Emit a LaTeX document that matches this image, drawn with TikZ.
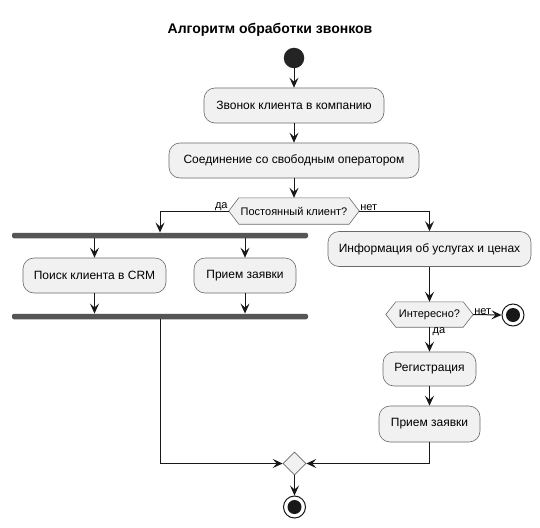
\documentclass[tikz,border=0pt]{standalone}
\usepackage{fontspec}
\setmainfont{Liberation Sans}
\usetikzlibrary{arrows.meta,backgrounds,calc,shapes.geometric}
\definecolor{boxfill}{HTML}{F1F1F1}
\definecolor{ln}{HTML}{181818}
\definecolor{bord}{HTML}{6A6A6A}
\definecolor{barc}{HTML}{555555}
\tikzset{
 act/.style={draw=bord, line width=0.6pt, fill=boxfill, rounded corners=11pt, minimum height=35pt, inner sep=0pt, font=\fontsize{12}{14}\selectfont},
 flow/.style={draw=ln, line width=1pt, -{Stealth[length=10pt,width=9pt,inset=4pt]}},
 plain/.style={draw=ln, line width=1pt},
 bar/.style={fill=barc, draw=none, rounded corners=2pt, minimum width=296pt, minimum height=5.5pt, inner sep=0pt},
 hexnode/.style={font=\fontsize{11}{13}\selectfont, inner sep=0pt, minimum height=26pt},
 hexshape/.style={draw=bord, line width=0.6pt, fill=boxfill},
 lbl/.style={font=\fontsize{11}{13}\selectfont, inner sep=1pt},
 startdot/.style={circle, fill=ln!95, draw=none, minimum size=20.5pt, inner sep=0pt},
 endring/.style={circle, fill=white, draw=ln, line width=1pt, minimum size=22pt, inner sep=0pt},
 mergebox/.style={diamond, fill=boxfill, draw=bord, line width=0.6pt, minimum width=23pt, minimum height=23pt, inner sep=0pt},
}
\begin{document}
\begin{tikzpicture}[x=1pt,y=-1pt]
\useasboundingbox (0,0) rectangle (540,527);

\node[font=\fontsize{14}{16}\selectfont\bfseries] (title) at (270,30) {Алгоритм обработки звонков};

\node[startdot] (start) at (294,58) {};
\node[act, minimum width=180pt] (b1) at (294,105.5) {Звонок клиента в компанию};
\node[act, minimum width=250pt] (b2) at (294,160.5) {Соединение со свободным оператором};
\node[hexnode, minimum width=130pt] (d1) at (294,211) {Постоянный клиент?};

\node[bar] (fork) at (160,235.5) {};
\node[act, minimum width=143pt] (p1) at (94.5,275.5) {Поиск клиента в CRM};
\node[act, minimum width=102pt] (p2) at (245,275.5) {Прием заявки};
\node[bar] (join) at (160,316.5) {};

\node[act, minimum width=203pt] (info) at (429.5,249) {Информация об услугах и ценах};
\node[hexnode, minimum width=87pt, minimum height=25pt] (d2) at (429.5,314.5) {Интересно?};
\node[endring] (end1) at (513,315) {};
\node[circle, fill=ln, minimum size=14pt, inner sep=0pt] (end1dot) at (end1) {};
\node[act, minimum width=93pt, minimum height=34pt] (reg) at (429.5,369) {Регистрация};
\node[act, minimum width=101pt, minimum height=36pt] (r2) at (429.5,424) {Прием заявки};

\node[mergebox] (merge) at (294.5,463.5) {};
\node[endring] (end2) at (294.5,507) {};
\node[circle, fill=ln, minimum size=14pt, inner sep=0pt] (end2dot) at (end2) {};

\begin{scope}[on background layer]
\fill[white] (0,0) rectangle (540,527);
\draw[hexshape] (d1.west) -- ([xshift=10pt]d1.north west) -- ([xshift=-10pt]d1.north east) -- (d1.east) -- ([xshift=-10pt]d1.south east) -- ([xshift=10pt]d1.south west) -- cycle;
\draw[hexshape] (d2.west) -- ([xshift=10pt]d2.north west) -- ([xshift=-10pt]d2.north east) -- (d2.east) -- ([xshift=-10pt]d2.south east) -- ([xshift=10pt]d2.south west) -- cycle;
\end{scope}

\draw[flow] (start) -- (b1);
\draw[flow] (b1) -- (b2);
\draw[flow] (b2) -- (d1);
\draw[flow] (d1.west) -| (fork.north);
\draw[flow] (d1.east) -| (info.north);
\node[lbl, anchor=south east] (yes1) at ([yshift=-1pt]d1.west) {да};
\node[lbl, anchor=south west] (no1) at ([yshift=-1pt]d1.east) {нет};

\draw[flow] (p1 |- fork.south) -- (p1.north);
\draw[flow] (p2 |- fork.south) -- (p2.north);
\draw[flow] (p1.south) -- (p1 |- join.north);
\draw[flow] (p2.south) -- (p2 |- join.north);
\draw[flow] (join.south) |- (merge.west);

\draw[flow] (info.south) -- (d2.north);
\draw[flow] (d2.east) -- (end1.west);
\node[lbl, anchor=south west] (no2) at ([yshift=-1pt]d2.east) {нет};
\draw[flow] (d2.south) -- (reg.north);
\node[lbl, anchor=north west] (yes2) at ([xshift=2pt,yshift=1pt]d2.south) {да};
\draw[flow] (reg.south) -- (r2.north);
\draw[flow] (r2.south) |- (merge.east);
\draw[flow] (merge.south) -- (end2.north);
\end{tikzpicture}
\end{document}
